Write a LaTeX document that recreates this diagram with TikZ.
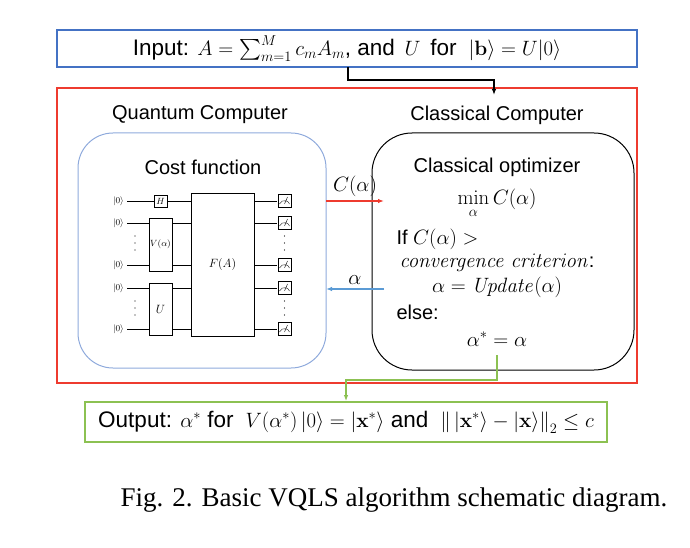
\documentclass[tikz,border=0pt]{standalone}
\usepackage{amsmath}
\usepackage[no-math]{fontspec}
\setmainfont{Liberation Sans}
\newfontfamily\capfont{Liberation Serif}
\usetikzlibrary{arrows.meta}
\definecolor{inblue}{HTML}{4472C4}
\definecolor{qblue}{HTML}{8FAADC}
\definecolor{ored}{HTML}{EE3B2F}
\definecolor{ogreen}{HTML}{8CC152}
\definecolor{arblue}{HTML}{5B9BD5}
\begin{document}
\begin{tikzpicture}[x=1pt,y=-1pt,
  big/.style={font=\fontsize{22.5}{26}\selectfont},
  mid/.style={font=\fontsize{20}{23}\selectfont},
  gate/.style={draw,fill=white,line width=0.6pt},
  wire/.style={line width=0.6pt},
  ket/.style={font=\fontsize{9}{10}\selectfont,anchor=east,inner sep=1pt},
  meter/.style={draw,fill=white,minimum size=13pt,inner sep=0pt,line width=0.6pt}]
\useasboundingbox (0,0) rectangle (690,548);
% input
\node[draw=inblue,line width=1.8pt,minimum width=580pt,minimum height=37pt,big] (in) at (347,48.5)
 {Input: $A=\sum_{m=1}^{M}c_mA_m$, and $\,U\,$ for $\;|\mathbf{b}\rangle = U|0\rangle$};
\draw[ored,line width=1.5pt] (57,88) rectangle (637,383);
\coordinate (c1) at (348,67);
\coordinate (c2) at (494,95);
\draw[line width=1.5pt,-{Latex[length=6pt]}] (c1) -- (348,80) -| (c2);
\node[mid] (qc) at (200,115) {Quantum Computer};
\node[mid] (cc) at (497,115) {Classical Computer};
% quantum box
\draw[qblue,line width=1pt,rounded corners=35pt] (78,133) rectangle (326,368);
\node[mid] (cf) at (203,167) {Cost function};
% circuit
\foreach \y/\n in {201/a,223/b,265/c,288/d,329/e}{
  \node[ket] (k\n) at (125,\y) {$|0\rangle$};
  \draw[wire] (127,\y) -- (277,\y);
}
\foreach \y in {236,243,250}{\node[circle,fill,inner sep=0.5pt] at (135,\y){};}
\foreach \y in {301,308,315}{\node[circle,fill,inner sep=0.5pt] at (135,\y){};}
\node[gate,minimum width=13pt,minimum height=12pt,inner sep=0pt,font=\small] (H) at (160.5,201) {$H$};
\draw[gate] (149,218) rectangle (172,271);
\node[font=\small] (V) at (160.5,244.5) {$V(\alpha)$};
\draw[gate] (149,283) rectangle (172,335);
\node[font=\large] (U) at (160.5,309) {$U$};
\draw[gate] (191,193) rectangle (254,336);
\node[font=\fontsize{13}{15}\selectfont] (F) at (222.5,264) {$F(A)$};
\foreach \y in {201,223,265,288,329}{
  \node[meter] (m\y) at (284.5,\y) {};
  \draw[line width=0.4pt] (279.5,\y+3) arc[start angle=160,end angle=20,radius=5.3pt];
  \draw[line width=0.4pt] (284.5,\y+3) -- (287.5,\y-4);
}
\foreach \y in {236,243,250}{\node[circle,fill,inner sep=0.5pt] at (284.5,\y){};}
\foreach \y in {301,308,315}{\node[circle,fill,inner sep=0.5pt] at (284.5,\y){};}
% classical box
\draw[line width=1pt,rounded corners=40pt] (372,133) rectangle (634,370);
\node[mid] (co) at (497,167) {Classical optimizer};
\node[mid] (mn) at (497,204) {$\min\limits_{\alpha} C(\alpha)$};
\node[mid,anchor=west] (if) at (393,239) {If $C(\alpha)>$};
\node[mid] (cv) at (497,263) {$\mathit{convergence\ criterion}$:};
\node[mid] (up) at (497,287) {$\alpha=\mathit{Update}(\alpha)$};
\node[mid,anchor=west] (el) at (393,312) {else:};
\node[mid] (as) at (497,339) {$\alpha^*=\alpha$};
% arrows between boxes
\coordinate (r1) at (326,201); \coordinate (r2) at (384,201);
\draw[ored,line width=1.5pt,-{Latex[length=6pt]}] (r1) -- node[above,black,mid]{$C(\alpha)$} (r2);
\coordinate (b1) at (384,289); \coordinate (b2) at (326,289);
\draw[arblue,line width=1.5pt,-{Latex[length=6pt]}] (b1) -- node[above,black,mid]{$\alpha$} (b2);
% output
\node[draw=ogreen,line width=1.8pt,minimum width=522pt,minimum height=40pt,big] (out) at (346,422)
 {Output: $\alpha^*$ for $\;V\!\left(\alpha^*\right)|0\rangle=\left|\mathbf{x}^*\right\rangle$ and $\;\left\|\,\left|\mathbf{x}^*\right\rangle-\left|\mathbf{x}\right\rangle\right\|_2\le c$};
\coordinate (g1) at (497,355);
\draw[ogreen,line width=1.5pt,-{Latex[length=6pt]}] (g1) -- (497,380) -| (out.north -| 346,0);
\node[font=\capfont\fontsize{27}{30}\selectfont] (cap) at (394,500) {Fig. 2. Basic VQLS algorithm schematic diagram.};
\end{tikzpicture}
\end{document}
